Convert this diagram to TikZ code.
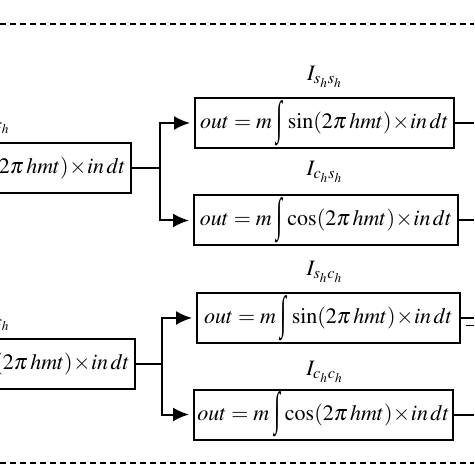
\documentclass[tikz,border=0pt]{standalone}
\usepackage{mathptmx}
\usepackage{graphicx}
\usepackage{fontspec}
\newfontfamily\tnr{Liberation Serif}
\usetikzlibrary{arrows.meta}
\tikzset{
  box/.style = {draw, line width = 1pt, inner sep = 0pt, minimum height = 25pt, font = \fontsize{11}{13}\selectfont},
  lbl/.style = {inner sep = 0pt, font = \fontsize{11}{13}\selectfont},
  wire/.style = {line width = 1pt},
  feed/.style = {wire, -{Latex[length = 8pt, width = 7pt]}, shorten > = 2pt},
  sep/.style = {line width = 0.7pt, dash pattern = on 3pt off 2pt}
}
\newcommand{\tallint}{\mathord{\vcenter{\hbox{\scalebox{1}[2.1]{\tnr\symbol{"222B}}}}}}
\newcommand{\sinint}{$out = m\;\tallint\,\sin(2\pi\, hmt)\!\times\! in\, dt$}
\newcommand{\cosint}{$out = m\;\tallint\,\cos(2\pi\, hmt)\!\times\! in\, dt$}

\begin{document}
\begin{tikzpicture}[x = 0.5pt, y = -0.5pt]
        \useasboundingbox (0, 0) rectangle (474, 474);
        \clip (0, 0) rectangle (474, 474);
        \draw[sep] (0, 24) -- (474, 24);
        \draw[sep] (0, 463) -- (474, 463);
        % left blocks, cut by the frame
        \node[box, minimum width = 129.5pt, anchor = east] (sh) at (132, 168) {\sinint};
        \node[box, minimum width = 129.5pt, anchor = east] (ch) at (136, 364) {\sinint};
        \node[lbl, anchor = east] (lsh) at (11, 123) {$I_{c_h}$};
        \node[lbl, anchor = east] (lch) at (11, 320) {$I_{c_h}$};
        % right blocks
        \node[box, minimum width = 129.5pt] (ss) at (324.5, 123) {\sinint};
        \node[box, minimum width = 132pt] (cs) at (326, 220.5) {\cosint};
        \node[box, minimum width = 131.5pt] (sc) at (328.5, 318) {\sinint};
        \node[box, minimum width = 129.5pt] (cc) at (323.5, 414.5) {\cosint};
        \node[lbl] (lss) at (325, 77) {$I_{s_h s_h}$};
        \node[lbl] (lcs) at (325, 172) {$I_{c_h s_h}$};
        \node[lbl] (lsc) at (325, 272) {$I_{s_h c_h}$};
        \node[lbl] (lcc) at (325, 372) {$I_{c_h c_h}$};
        \coordinate (j1) at (160, 168);
        \coordinate (j2) at (162, 364);
        \coordinate (o1) at (474, 123);
        \coordinate (o2) at (474, 220.5);
        \coordinate (o3) at (474, 318);
        \coordinate (o4) at (474, 414.5);
        \draw[wire] (sh.east) -- (j1);
        \draw[feed] (j1) |- (ss.west);
        \draw[feed] (j1) |- (cs.west);
        \draw[wire] (ch.east) -- (j2);
        \draw[feed] (j2) |- (sc.west);
        \draw[feed] (j2) |- (cc.west);
        \draw[wire] (ss.east) -- (o1);
        \draw[wire] (cs.east) -- (o2);
        \draw[wire] (sc.east) -- (o3);
        \draw[wire] (cc.east) -- (o4);
        \draw[line width = 0.5pt] (466, 325) -- (474, 325);
      \end{tikzpicture}
\end{document}
